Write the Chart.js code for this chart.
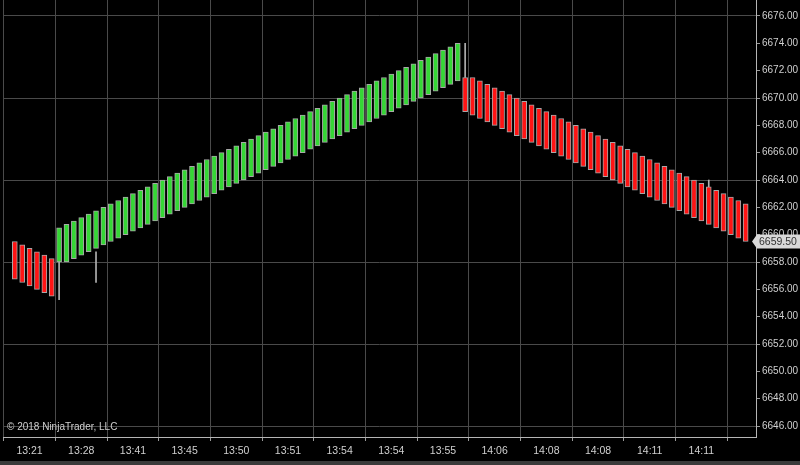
<!DOCTYPE html>
<html>
<head>
<meta charset="utf-8">
<script src="https://cdn.jsdelivr.net/npm/chart.js@4.4.1/dist/chart.umd.min.js"></script>
<style>
  html, body { margin:0; padding:0; background:#000; }
  #wrap { width:800px; height:465px; position:relative; }
</style>
</head>
<body>
<div id="wrap"><canvas id="chart"></canvas></div>
<script>
// ===== Data =====
const opens = [
  6659.5, 6659.25, 6659, 6658.75, 6658.5, 6658.25,
  6658, 6658, 6658.25, 6658.5, 6658.75, 6659, 6659.25, 6659.5, 6659.75, 6660,
  6660.25, 6660.5, 6660.75, 6661, 6661.25, 6661.5, 6661.75, 6662, 6662.25, 6662.5,
  6662.75, 6663, 6663.25, 6663.5, 6663.75, 6664, 6664.25, 6664.5, 6664.75, 6665,
  6665.25, 6665.5, 6665.75, 6666, 6666.25, 6666.5, 6666.75, 6667, 6667.25, 6667.5,
  6667.75, 6668, 6668.25, 6668.5, 6668.75, 6669, 6669.25, 6669.5, 6669.75, 6670,
  6670.25, 6670.5, 6670.75, 6671, 6671.25,
  6671.5, 6671.5, 6671.25, 6671, 6670.75, 6670.5, 6670.25, 6670, 6669.75, 6669.5,
  6669.25, 6669, 6668.75, 6668.5, 6668.25, 6668, 6667.75, 6667.5, 6667.25, 6667,
  6666.75, 6666.5, 6666.25, 6666, 6665.75, 6665.5, 6665.25, 6665, 6664.75, 6664.5,
  6664.25, 6664, 6663.75, 6663.5, 6663.25, 6663, 6662.75, 6662.5, 6662.25
];
const closes = [
  6656.75, 6656.5, 6656.25, 6656, 6655.75, 6655.5,
  6660.5, 6660.75, 6661, 6661.25, 6661.5, 6661.75, 6662, 6662.25, 6662.5, 6662.75,
  6663, 6663.25, 6663.5, 6663.75, 6664, 6664.25, 6664.5, 6664.75, 6665, 6665.25,
  6665.5, 6665.75, 6666, 6666.25, 6666.5, 6666.75, 6667, 6667.25, 6667.5, 6667.75,
  6668, 6668.25, 6668.5, 6668.75, 6669, 6669.25, 6669.5, 6669.75, 6670, 6670.25,
  6670.5, 6670.75, 6671, 6671.25, 6671.5, 6671.75, 6672, 6672.25, 6672.5, 6672.75,
  6673, 6673.25, 6673.5, 6673.75, 6674,
  6669, 6668.75, 6668.5, 6668.25, 6668, 6667.75, 6667.5, 6667.25, 6667, 6666.75,
  6666.5, 6666.25, 6666, 6665.75, 6665.5, 6665.25, 6665, 6664.75, 6664.5, 6664.25,
  6664, 6663.75, 6663.5, 6663.25, 6663, 6662.75, 6662.5, 6662.25, 6662, 6661.75,
  6661.5, 6661.25, 6661, 6660.75, 6660.5, 6660.25, 6660, 6659.75, 6659.5
];
// wicks sticking out of the body: [bar index, low, high]
const wickBars = [6, 11, 61, 94];
const wickLows = [6655.25, 6656.5, 6671.5, 6663.5];
const wickHighs = [6658, 6658.75, 6674, 6664];

const timeTickBars = [2, 9, 16, 23, 30, 37, 44, 51, 58, 65, 72, 79, 86, 93];
const timeLabels = ["13:21","13:28","13:41","13:45","13:50","13:51","13:54","13:54","13:55","14:06","14:08","14:08","14:11","14:11"];
const priceTicks = [6646, 6648, 6650, 6652, 6654, 6656, 6658, 6660, 6662, 6664, 6666, 6668, 6670, 6672, 6674, 6676];
const priceGrid = [6646, 6652, 6658, 6664, 6670, 6676];
const lastPrice = 6659.50;

// ===== Build =====
const bodies = opens.map((o, i) => ({ x: i, y: [o, closes[i]] }));
const bodyColors = opens.map((o, i) => closes[i] >= o ? "#35d735" : "#ff1414");
const wicks = wickBars.map((b, i) => ({ x: b, y: [wickLows[i], wickHighs[i]] }));

const overlay = {
  id: "overlay",
  afterDraw(chart) {
    const ctx = chart.ctx, y = chart.scales.y, area = chart.chartArea;
    ctx.save();
    // copyright
    ctx.font = "10px 'Liberation Sans', Arial, sans-serif";
    ctx.fillStyle = "#cfcfcf";
    ctx.textBaseline = "middle";
    ctx.fillText("\u00a9 2018 NinjaTrader, LLC", 7, 427);
    // last price tag
    const py = y.getPixelForValue(lastPrice);
    const x0 = area.right - 4;
    ctx.fillStyle = "#d9d9d9";
    ctx.beginPath();
    ctx.moveTo(x0, py);
    ctx.lineTo(x0 + 5, py - 7);
    ctx.lineTo(800, py - 7);
    ctx.lineTo(800, py + 7);
    ctx.lineTo(x0 + 5, py + 7);
    ctx.closePath();
    ctx.fill();
    ctx.fillStyle = "#333";
    ctx.font = "10.5px 'Liberation Sans', Arial, sans-serif";
    ctx.fillText(lastPrice.toFixed(2), x0 + 7, py + 1);
    // bottom scrollbar strip
    ctx.fillStyle = "#3a3a3a";
    ctx.fillRect(0, 461, 800, 4);
    ctx.restore();
  }
};

new Chart(document.getElementById("chart"), {
  type: "bar",
  data: {
    datasets: [
      { data: wicks, backgroundColor: "#b0b0b0", borderWidth: 0, barThickness: 1, grouped: false, order: 2 },
      { data: bodies, backgroundColor: bodyColors, borderColor: "#a8a8a8", borderWidth: 1,
        borderSkipped: false, barThickness: 5, grouped: false, order: 1 }
    ]
  },
  options: {
    responsive: true, maintainAspectRatio: false, animation: false,
    layout: { padding: { left: 3, top: 0, right: 0, bottom: 0 } },
    plugins: { legend: { display: false }, tooltip: { enabled: false } },
    scales: {
      x: {
        type: "linear", min: -1.6, max: 100.4, offset: false,
        afterBuildTicks: s => { s.ticks = timeTickBars.map(v => ({ value: v })); },
        afterFit: s => { s.height = 28; s.paddingLeft = 0; s.paddingRight = 0; },
        ticks: {
          color: "#d0d0d0", font: { size: 10.5, family: "'Liberation Sans', Arial" }, padding: 4,
          maxRotation: 0, autoSkip: false,
          callback: v => timeLabels[timeTickBars.indexOf(v)]
        },
        grid: { color: "#4a4a4a", tickColor: "#9a9a9a", tickLength: 4 },
        border: { color: "#b5b5b5", width: 1 }
      },
      y: {
        position: "right", min: 6645.2, max: 6677.17,
        afterBuildTicks: s => { s.ticks = priceTicks.map(v => ({ value: v })); },
        afterFit: s => { s.width = 44; s.paddingTop = 0; s.paddingBottom = 0; },
        ticks: {
          color: "#d0d0d0", font: { size: 10, family: "'Liberation Sans', Arial" }, padding: 2,
          callback: v => v.toFixed(2)
        },
        grid: {
          color: c => priceGrid.includes(c.tick && c.tick.value) ? "#4a4a4a" : "rgba(0,0,0,0)",
          tickColor: "#9a9a9a", tickLength: 4
        },
        border: { color: "#b5b5b5", width: 1 }
      }
    }
  },
  plugins: [overlay]
});
</script>
</body>
</html>
